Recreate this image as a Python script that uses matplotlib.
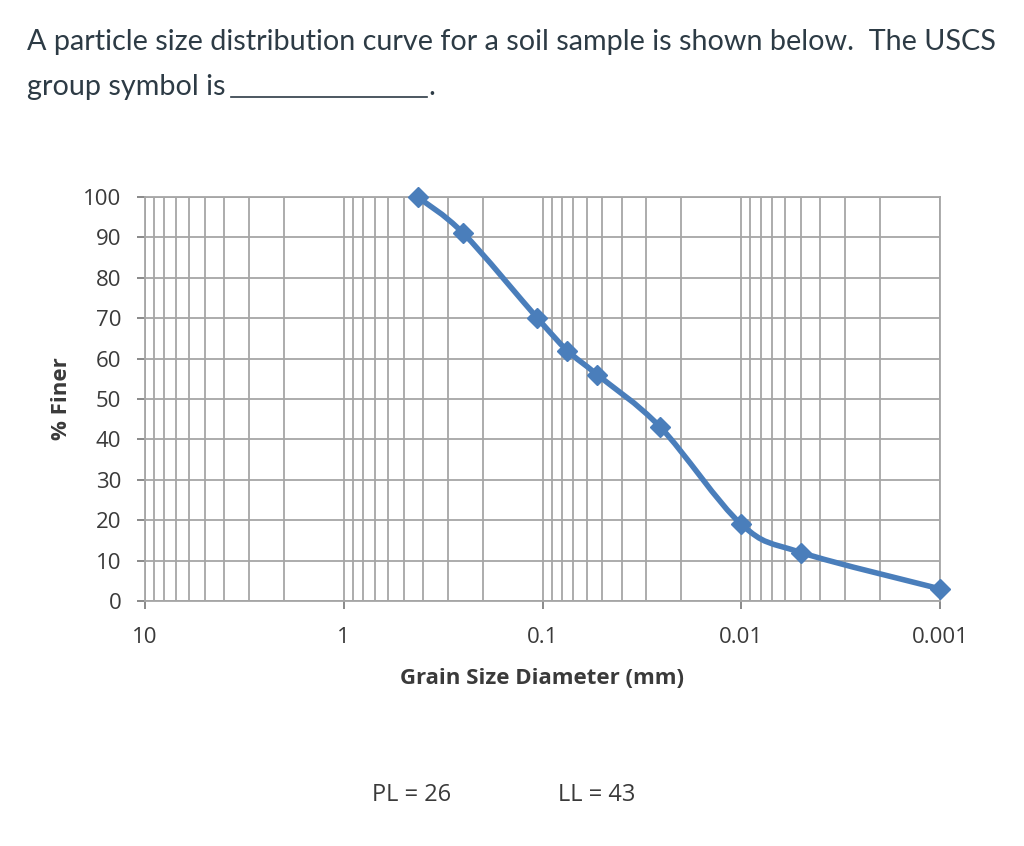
import matplotlib
matplotlib.use("Agg")
import matplotlib.pyplot as plt
import numpy as np
from matplotlib.path import Path
from matplotlib.patches import PathPatch
from matplotlib.lines import Line2D
from matplotlib.ticker import FixedLocator, LogLocator, NullFormatter

# data
diam = [0.425, 0.25, 0.106, 0.075, 0.053, 0.0255, 0.01, 0.005, 0.001]
finer = [100, 91, 70, 62, 56, 43, 19, 12, 3]
x_ticks = [10, 1, 0.1, 0.01, 0.001]
x_labels = ["10", "1", "0.1", "0.01", "0.001"]
y_ticks = list(range(0, 101, 10))

blue = "#4A7EBB"
grid_c = "#A6A6A6"
txt_c = "#3a3a3a"
q_c = "#2d3b45"
chart_font = "Open Sans"

fig = plt.figure(figsize=(10.24, 8.46), dpi=100)
ax = fig.add_axes([145 / 1024, 1 - 601 / 846, 795 / 1024, 404 / 846])

ax.set_xscale("log")
ax.set_xlim(10, 0.001)
ax.set_ylim(0, 100)

# smooth line like Excel: bezier through the points in (log x, y) space
lx = np.log10(diam)
yy = np.array(finer, dtype=float)
verts = [(diam[0], finer[0])]
codes = [Path.MOVETO]
n = len(lx)
for i in range(n - 1):
    p0 = (lx[max(i - 1, 0)], yy[max(i - 1, 0)])
    p1 = (lx[i], yy[i])
    p2 = (lx[i + 1], yy[i + 1])
    p3 = (lx[min(i + 2, n - 1)], yy[min(i + 2, n - 1)])
    c1 = (p1[0] + (p2[0] - p0[0]) / 6, p1[1] + (p2[1] - p0[1]) / 6)
    c2 = (p2[0] - (p3[0] - p1[0]) / 6, p2[1] - (p3[1] - p1[1]) / 6)
    for c in (c1, c2, p2):
        verts.append((10 ** c[0], c[1]))
        codes.append(Path.CURVE4)
ax.add_patch(PathPatch(Path(verts, codes), fill=False, edgecolor=blue,
                       lw=4, capstyle="round", joinstyle="round", zorder=3))
ax.plot(diam, finer, linestyle="none", marker="D", markersize=10.5,
        color=blue, zorder=4, clip_on=False)

# grid
ax.xaxis.set_major_locator(FixedLocator(x_ticks))
ax.xaxis.set_minor_locator(LogLocator(base=10, subs=np.arange(2, 10)))
ax.xaxis.set_minor_formatter(NullFormatter())
ax.set_xticklabels(x_labels)
ax.set_yticks(y_ticks)
ax.grid(True, which="both", axis="x", color=grid_c, lw=1.3)
ax.grid(True, which="major", axis="y", color=grid_c, lw=1.3)
ax.set_axisbelow(True)
for s in ax.spines.values():
    s.set_color(grid_c)
    s.set_linewidth(1.3)
ax.tick_params(axis="x", which="minor", length=0)
ax.tick_params(axis="both", which="major", length=6, width=1.3, color="#808080",
               labelsize=16, labelcolor=txt_c)
ax.tick_params(axis="x", pad=13)
ax.tick_params(axis="y", pad=11)
for lab in ax.get_xticklabels() + ax.get_yticklabels():
    lab.set_fontfamily(chart_font)

ax.set_xlabel("Grain Size Diameter (mm)", fontfamily=chart_font, fontsize=16,
              fontweight="bold", color=txt_c, labelpad=14)
ax.set_ylabel("% Finer", fontfamily=chart_font, fontsize=16,
              fontweight="bold", color=txt_c, labelpad=8)

fig.text(412 / 1024, 1 - 795 / 846, "PL = 26", ha="center", va="center",
         fontfamily=chart_font, fontsize=17, color=txt_c)
fig.text(597 / 1024, 1 - 795 / 846, "LL = 43", ha="center", va="center",
         fontfamily=chart_font, fontsize=17, color=txt_c)

# question text above the chart
fig.text(27 / 1024, 1 - 42 / 846,
         "A particle size distribution curve for a soil sample is shown below.  The USCS",
         ha="left", va="center", fontfamily="Lato", fontsize=20.7, color=q_c)
fig.text(27 / 1024, 1 - 87 / 846, "group symbol is",
         ha="left", va="center", fontfamily="Lato", fontsize=20.7, color=q_c)
fig.add_artist(Line2D([231 / 1024, 427 / 1024], [1 - 97 / 846, 1 - 97 / 846],
                      transform=fig.transFigure, color=q_c, lw=1.2))
fig.text(428 / 1024, 1 - 87 / 846, ".",
         ha="left", va="center", fontfamily="Lato", fontsize=20.7, color=q_c)

fig.savefig("out.png", dpi=100)
